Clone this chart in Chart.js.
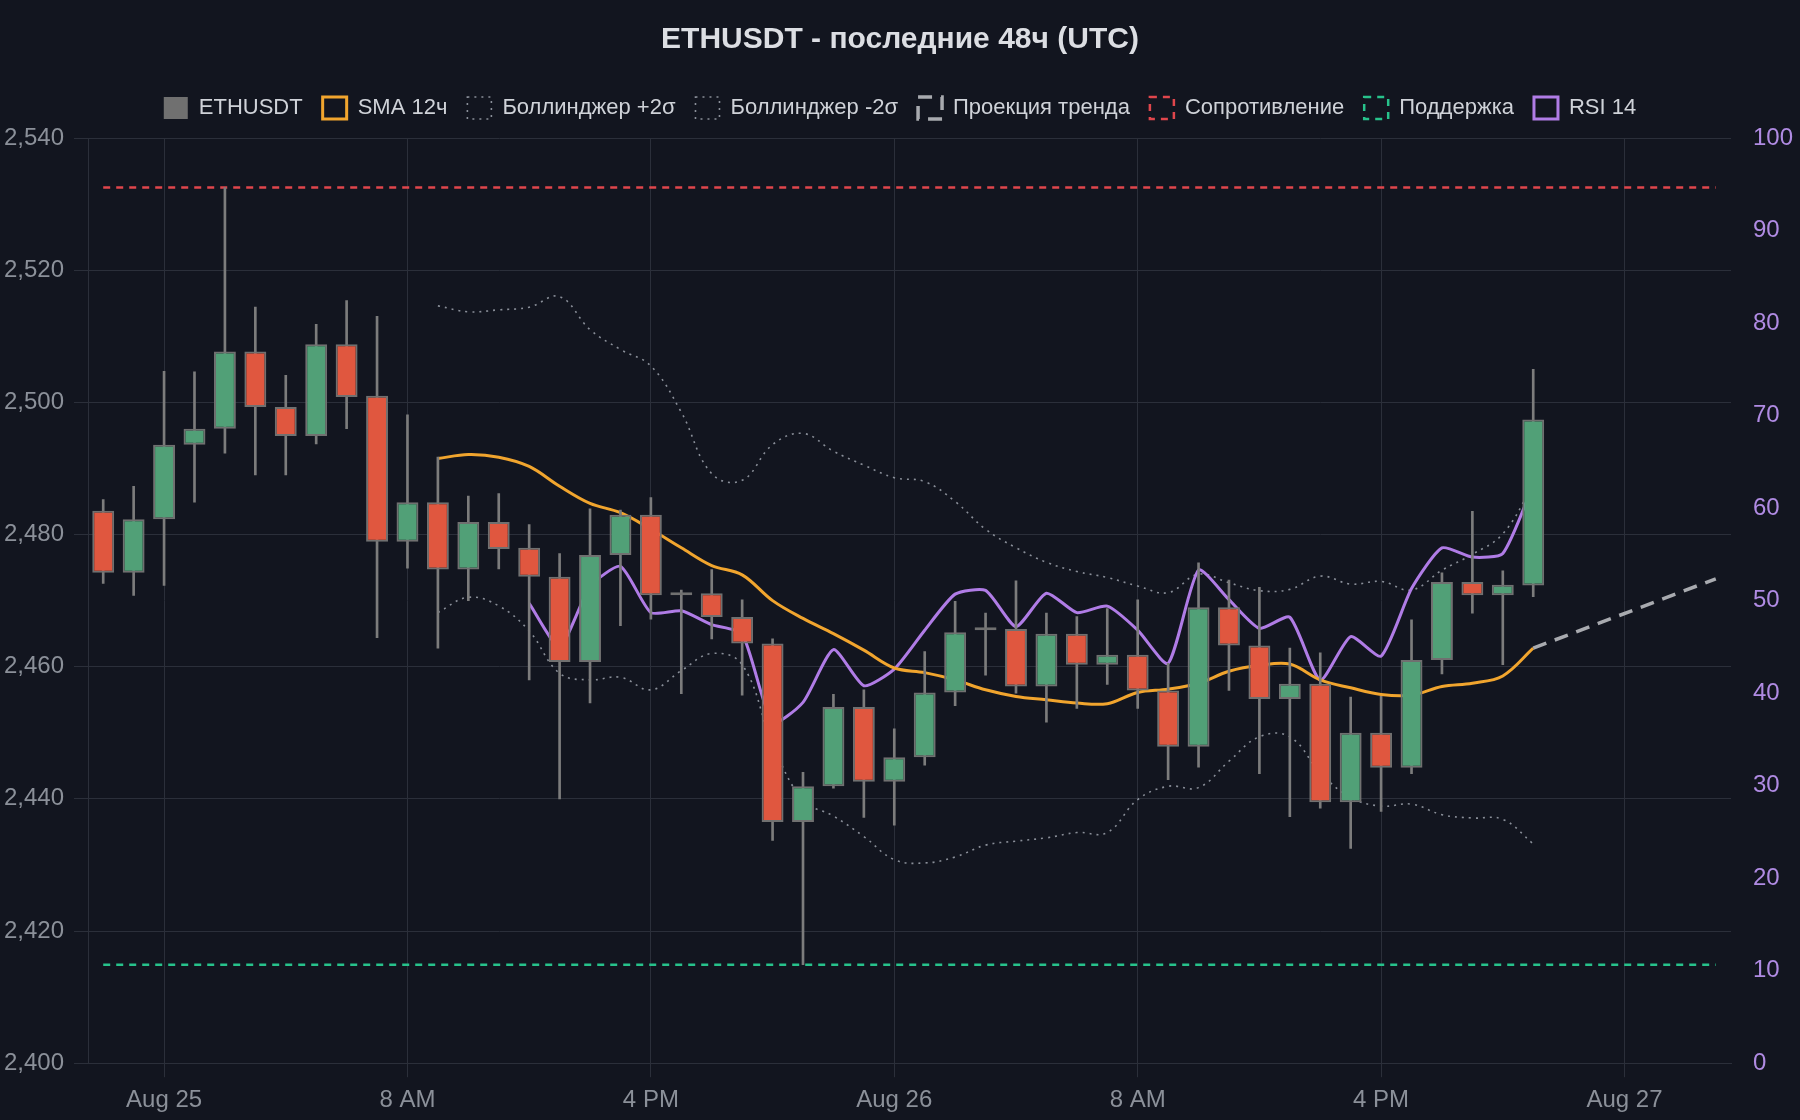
<!DOCTYPE html>
<html>
<head>
<meta charset="utf-8">
<title>ETHUSDT 48h</title>
<script src="https://cdn.jsdelivr.net/npm/chart.js@4.4.1/dist/chart.umd.min.js"></script>
<style>
  html, body { margin: 0; padding: 0; background: #12151f; overflow: hidden; }
  #wrap { width: 1800px; height: 1120px; position: relative; }
</style>
</head>
<body>
<div id="wrap"><canvas id="candles"></canvas></div>
<script>
// hourly candles, hours counted from Aug 25 00:00 UTC
const hours = [-2, -1, 0, 1, 2, 3, 4, 5, 6, 7, 8, 9, 10, 11, 12, 13, 14, 15, 16, 17, 18, 19, 20, 21,
  22, 23, 24, 25, 26, 27, 28, 29, 30, 31, 32, 33, 34, 35, 36, 37, 38, 39, 40, 41, 42, 43, 44, 45];

const opens = [2483.6, 2474.2, 2482.3, 2493.6, 2496.0, 2507.7, 2499.3, 2494.9, 2508.8, 2501.0,
  2478.9, 2484.9, 2474.7, 2481.9, 2478.0, 2473.6, 2460.7, 2476.9, 2483.0, 2470.8,
  2471.1, 2467.5, 2463.5, 2436.5, 2441.9, 2453.9, 2442.6, 2446.3, 2456.1, 2465.5,
  2465.7, 2457.0, 2465.0, 2460.3, 2461.8, 2456.4, 2447.9, 2469.0, 2463.2, 2455.1,
  2457.4, 2439.5, 2450.0, 2444.7, 2461.0, 2472.8, 2470.8, 2472.3];
const highs = [2485.3, 2487.3, 2504.7, 2504.6, 2532.5, 2514.4, 2504.1, 2511.8, 2515.4, 2513.0,
  2498.1, 2491.7, 2485.8, 2486.2, 2481.5, 2477.1, 2483.9, 2483.7, 2485.6, 2471.6,
  2474.7, 2470.1, 2464.2, 2444.0, 2455.8, 2456.5, 2450.6, 2462.3, 2469.9, 2468.1,
  2473.0, 2468.1, 2467.6, 2468.8, 2470.1, 2460.5, 2475.7, 2473.1, 2472.0, 2462.8,
  2462.1, 2455.4, 2455.5, 2467.1, 2474.2, 2483.5, 2474.5, 2505.0];
const lows = [2472.6, 2470.8, 2472.3, 2484.9, 2492.3, 2489.0, 2489.0, 2493.7, 2496.0, 2464.4,
  2474.9, 2462.8, 2470.0, 2474.8, 2458.0, 2440.0, 2454.5, 2466.2, 2467.2, 2455.9,
  2464.2, 2455.7, 2433.7, 2414.9, 2441.6, 2437.2, 2436.0, 2445.1, 2454.1, 2458.7,
  2456.0, 2451.6, 2453.7, 2457.3, 2453.7, 2442.9, 2444.8, 2456.4, 2443.8, 2437.3,
  2438.6, 2432.5, 2438.1, 2443.8, 2458.9, 2468.1, 2460.3, 2470.6];
const closes = [2474.2, 2482.3, 2493.6, 2496.0, 2507.7, 2499.3, 2494.9, 2508.8, 2500.8, 2478.9,
  2484.9, 2474.7, 2481.9, 2477.8, 2473.6, 2460.7, 2476.9, 2483.0, 2470.8, 2470.8,
  2467.5, 2463.5, 2436.5, 2441.9, 2453.9, 2442.6, 2446.3, 2456.1, 2465.2, 2465.5,
  2457.0, 2465.0, 2460.3, 2461.8, 2456.4, 2447.9, 2469.0, 2463.2, 2455.1, 2457.4,
  2439.5, 2450.0, 2444.7, 2461.0, 2472.8, 2470.8, 2472.4, 2497.4];

// indicators (start later)
const smaHours = hours.slice(11);
const sma12 = [2491.5, 2492.1, 2491.7, 2490.3, 2487.3, 2484.7, 2483.3, 2480.8, 2478.0, 2475.3,
  2473.9, 2470.0, 2467.3, 2465.0, 2462.5, 2459.8, 2459.1, 2458.0, 2456.5, 2455.5,
  2455.0, 2454.5, 2454.4, 2456.1, 2456.6, 2457.5, 2459.3, 2460.2, 2460.4, 2458.0,
  2456.8, 2455.8, 2455.7, 2457.0, 2457.5, 2458.6, 2462.8];
const bbUpper = [2514.6, 2513.7, 2514.0, 2514.4, 2516.0, 2511.0, 2508.0, 2505.5, 2498.5, 2489.2,
  2488.2, 2493.6, 2495.3, 2492.6, 2490.5, 2488.6, 2488.0, 2485.0, 2480.8, 2478.0,
  2475.8, 2474.4, 2473.5, 2472.2, 2471.2, 2474.0, 2472.7, 2471.5, 2471.7, 2473.7,
  2472.5, 2472.9, 2471.6, 2474.6, 2477.0, 2480.1, 2487.5];
const bbLower = [2468.2, 2470.5, 2469.2, 2465.4, 2459.0, 2458.0, 2458.4, 2456.5, 2459.4, 2462.0,
  2460.3, 2448.4, 2439.8, 2437.4, 2434.3, 2430.8, 2430.3, 2431.2, 2433.0, 2433.6,
  2434.1, 2434.9, 2434.9, 2439.9, 2441.9, 2441.7, 2445.7, 2449.4, 2449.4, 2444.0,
  2440.2, 2438.9, 2439.2, 2437.6, 2437.1, 2436.9, 2433.2];
const rsiHours = hours.slice(14);
const rsi14 = [49.7, 45.0, 51.5, 53.7, 48.7, 48.9, 47.4, 46.4, 36.8, 39.0,
  44.7, 40.8, 42.6, 46.8, 50.7, 51.1, 47.2, 50.8, 48.7, 49.4,
  46.8, 43.2, 53.3, 50.1, 47.0, 48.2, 41.4, 46.1, 44.0, 51.3,
  55.7, 54.7, 55.1, 62.5];

const projHours = [45, 51];
const projValues = [2462.8, 2473.3];
const levelHours = [-2, 51];
const resistance = 2532.5;
const support = 2414.9;

const tickHours = [0, 8, 16, 24, 32, 40, 48];
const tickLabels = ['Aug 25', '8 AM', '4 PM', 'Aug 26', '8 AM', '4 PM', 'Aug 27'];

// colours
const GREEN = '#51a077', RED = '#e0573f', FLAT = '#6f6f6f';
const GRID = '#2b2f3a';
const candleColors = opens.map((o, i) => closes[i] > o ? GREEN : (closes[i] < o ? RED : FLAT));

function pts(xs, ys) {
  return ys.map((y, i) => ({ x: xs[i], y: y }));
}

Chart.defaults.font.family = "'Liberation Sans', Arial, sans-serif";

const lineBase = { type: 'line', xAxisID: 'x', yAxisID: 'y', pointRadius: 0, pointHoverRadius: 0,
  backgroundColor: 'transparent', fill: false };

new Chart(document.getElementById('candles'), {
  data: {
    datasets: [
      {
        type: 'bar', label: 'ETHUSDT', xAxisID: 'x', yAxisID: 'y',
        data: hours.map((h, i) => ({ x: h, y: [opens[i], closes[i]] })),
        backgroundColor: candleColors,
        borderColor: '#707070', borderWidth: 2, borderSkipped: false,
        grouped: false, barPercentage: 0.9, categoryPercentage: 0.8, minBarLength: 3,
        order: 0
      },
      Object.assign({}, lineBase, {
        label: 'SMA 12ч', data: pts(smaHours, sma12),
        borderColor: '#f1a52e', borderWidth: 3, tension: 0.35, order: 3
      }),
      Object.assign({}, lineBase, {
        label: 'Боллинджер +2σ', data: pts(smaHours, bbUpper),
        borderColor: '#8a8f99', borderWidth: 1.6, borderDash: [2, 5], tension: 0.4, order: 4
      }),
      Object.assign({}, lineBase, {
        label: 'Боллинджер -2σ', data: pts(smaHours, bbLower),
        borderColor: '#8a8f99', borderWidth: 1.6, borderDash: [2, 5], tension: 0.4, order: 4
      }),
      Object.assign({}, lineBase, {
        label: 'Проекция тренда', data: pts(projHours, projValues),
        borderColor: '#a8aaaf', borderWidth: 3.5, borderDash: [14, 9], order: 2
      }),
      Object.assign({}, lineBase, {
        label: 'Сопротивление', data: pts(levelHours, [resistance, resistance]),
        borderColor: '#e0464c', borderWidth: 2.5, borderDash: [7, 6], order: 2
      }),
      Object.assign({}, lineBase, {
        label: 'Поддержка', data: pts(levelHours, [support, support]),
        borderColor: '#27c28b', borderWidth: 2.5, borderDash: [7, 6], order: 2
      }),
      Object.assign({}, lineBase, {
        label: 'RSI 14', yAxisID: 'yRsi', data: pts(rsiHours, rsi14),
        borderColor: '#b07ce6', borderWidth: 3, tension: 0.2, order: 3
      }),
      {
        // wicks, no legend entry
        type: 'bar', label: '', xAxisID: 'x', yAxisID: 'y',
        data: hours.map((h, i) => ({ x: h, y: [lows[i], highs[i]] })),
        backgroundColor: '#7c7c7c', borderWidth: 0, barThickness: 2, grouped: false,
        order: 1
      }
    ]
  },
  options: {
    responsive: true,
    maintainAspectRatio: false,
    animation: false,
    layout: { padding: { left: 3, right: 3, top: 0, bottom: -4 } },
    plugins: {
      title: {
        display: true,
        text: 'ETHUSDT - последние 48ч (UTC)',
        color: '#dcdee3',
        font: { size: 30, weight: 'bold' },
        padding: { top: 22, bottom: 19 }
      },
      legend: {
        display: true,
        labels: {
          color: '#cfd2d8',
          font: { size: 22 },
          boxWidth: 24,
          boxHeight: 22,
          padding: 20,
          filter: item => item.text !== '',
          sort: (a, b) => a.datasetIndex - b.datasetIndex,
          generateLabels: chart => {
            const items = Chart.defaults.plugins.legend.labels.generateLabels(chart);
            items.forEach(it => {
              if (it.datasetIndex === 0) {
                it.fillStyle = '#707070';
                it.strokeStyle = '#707070';
                it.lineWidth = 0;
              }
            });
            return items;
          }
        }
      },
      tooltip: { enabled: false }
    },
    scales: {
      x: {
        type: 'linear',
        min: -2.5,
        max: 51.5,
        offset: false,
        afterBuildTicks: axis => { axis.ticks = tickHours.map(v => ({ value: v })); },
        ticks: {
          color: '#8b9099',
          font: { size: 24 },
          padding: 9,
          maxRotation: 0,
          autoSkip: false,
          callback: (value, index) => tickLabels[index]
        },
        grid: { color: GRID, tickLength: 14, offset: false },
        border: { color: GRID }
      },
      topPad: {
        type: 'linear',
        position: 'top',
        display: true,
        grid: { display: false, drawTicks: false },
        border: { display: false },
        ticks: { display: false },
        afterFit: scale => { scale.height = 9; }
      },
      y: {
        type: 'linear',
        position: 'left',
        min: 2400,
        max: 2540,
        afterFit: scale => { scale.width = 85; },
        ticks: { stepSize: 20, color: '#8b9099', font: { size: 24 }, padding: 10 },
        grid: { color: GRID, tickLength: 14 },
        border: { color: GRID }
      },
      yRsi: {
        type: 'linear',
        position: 'right',
        min: 0,
        max: 100,
        afterFit: scale => { scale.width = 66; },
        ticks: { stepSize: 10, color: '#b08be3', font: { size: 24 }, padding: 22 },
        grid: { drawOnChartArea: false, drawTicks: false },
        border: { display: false }
      }
    }
  }
});
</script>
</body>
</html>
